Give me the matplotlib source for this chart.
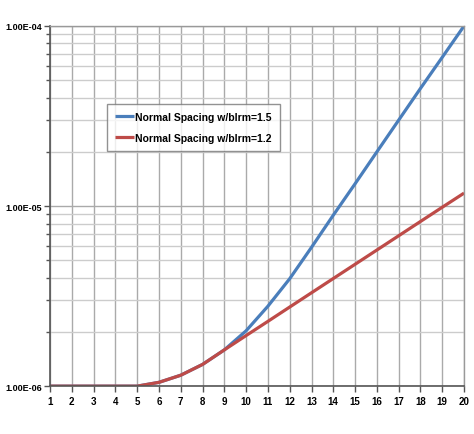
import matplotlib
matplotlib.use("Agg")
import matplotlib.pyplot as plt
from matplotlib.ticker import LogLocator, FixedLocator, NullFormatter

# values
x_vals = list(range(1, 21))
blue_vals = [1.0e-6, 1.0e-6, 1.0e-6, 1.0e-6, 1.0e-6, 1.05e-6, 1.15e-6, 1.32e-6, 1.59e-6, 2.03e-6,
             2.78e-6, 3.95e-6, 5.9e-6, 8.9e-6, 1.33e-5, 2.0e-5, 3.0e-5, 4.5e-5, 6.7e-5, 1.0e-4]
red_vals = [1.0e-6, 1.0e-6, 1.0e-6, 1.0e-6, 1.0e-6, 1.05e-6, 1.15e-6, 1.32e-6, 1.59e-6, 1.91e-6,
            2.29e-6, 2.75e-6, 3.30e-6, 3.96e-6, 4.75e-6, 5.70e-6, 6.84e-6, 8.21e-6, 9.85e-6, 1.18e-5]
series_names = ["Normal Spacing w/blrm=1.5", "Normal Spacing w/blrm=1.2"]
y_labels = {1e-6: "1.00E-06", 1e-5: "1.00E-05", 1e-4: "1.00E-04"}

plt.rcParams['font.family'] = ['Liberation Sans', 'DejaVu Sans']

fig = plt.figure(figsize=(4.74, 4.35), dpi=100)
ax = fig.add_axes([0.1055, 0.110, 0.8735, 0.828])

ax.plot(x_vals, blue_vals, color="#4A7EBB", lw=2.3, label=series_names[0], solid_capstyle="butt")
ax.plot(x_vals, red_vals, color="#BE4B48", lw=2.3, label=series_names[1], solid_capstyle="butt")

ax.set_yscale("log")
ax.set_ylim(1e-6, 1e-4)
ax.set_xlim(1, 20)

ax.xaxis.set_major_locator(FixedLocator(x_vals))
ax.set_xticklabels([str(v) for v in x_vals], fontsize=7, fontweight="bold")
ax.yaxis.set_major_locator(FixedLocator(list(y_labels.keys())))
ax.set_yticklabels(list(y_labels.values()), fontsize=6.5, fontweight="bold")
ax.yaxis.set_minor_locator(LogLocator(base=10, subs=range(2, 10)))
ax.yaxis.set_minor_formatter(NullFormatter())

ax.tick_params(axis="both", which="major", direction="out", length=4, width=1, color="#555555", pad=3)
ax.tick_params(axis="y", which="major", pad=2)
ax.tick_params(axis="y", which="minor", direction="out", length=3, width=1, color="#555555")

ax.grid(True, which="major", axis="both", color="#AAAAAA", lw=1)
ax.grid(True, which="minor", axis="y", color="#CCCCCC", lw=1)
ax.set_axisbelow(True)

for side in ["left", "bottom"]:
    ax.spines[side].set_color("#555555")
    ax.spines[side].set_linewidth(1.2)
for side in ["top", "right"]:
    ax.spines[side].set_color("#999999")
    ax.spines[side].set_linewidth(1)

leg = ax.legend(loc="upper left", bbox_to_anchor=(0.138, 0.784), frameon=True, fancybox=False,
                prop={"size": 7.5, "weight": "bold"}, handlelength=1.8, handletextpad=0.1,
                borderpad=0.8, labelspacing=1.0, borderaxespad=0)
leg.get_frame().set_edgecolor("#777777")
leg.get_frame().set_linewidth(1)

fig.savefig("out.png", dpi=100)
